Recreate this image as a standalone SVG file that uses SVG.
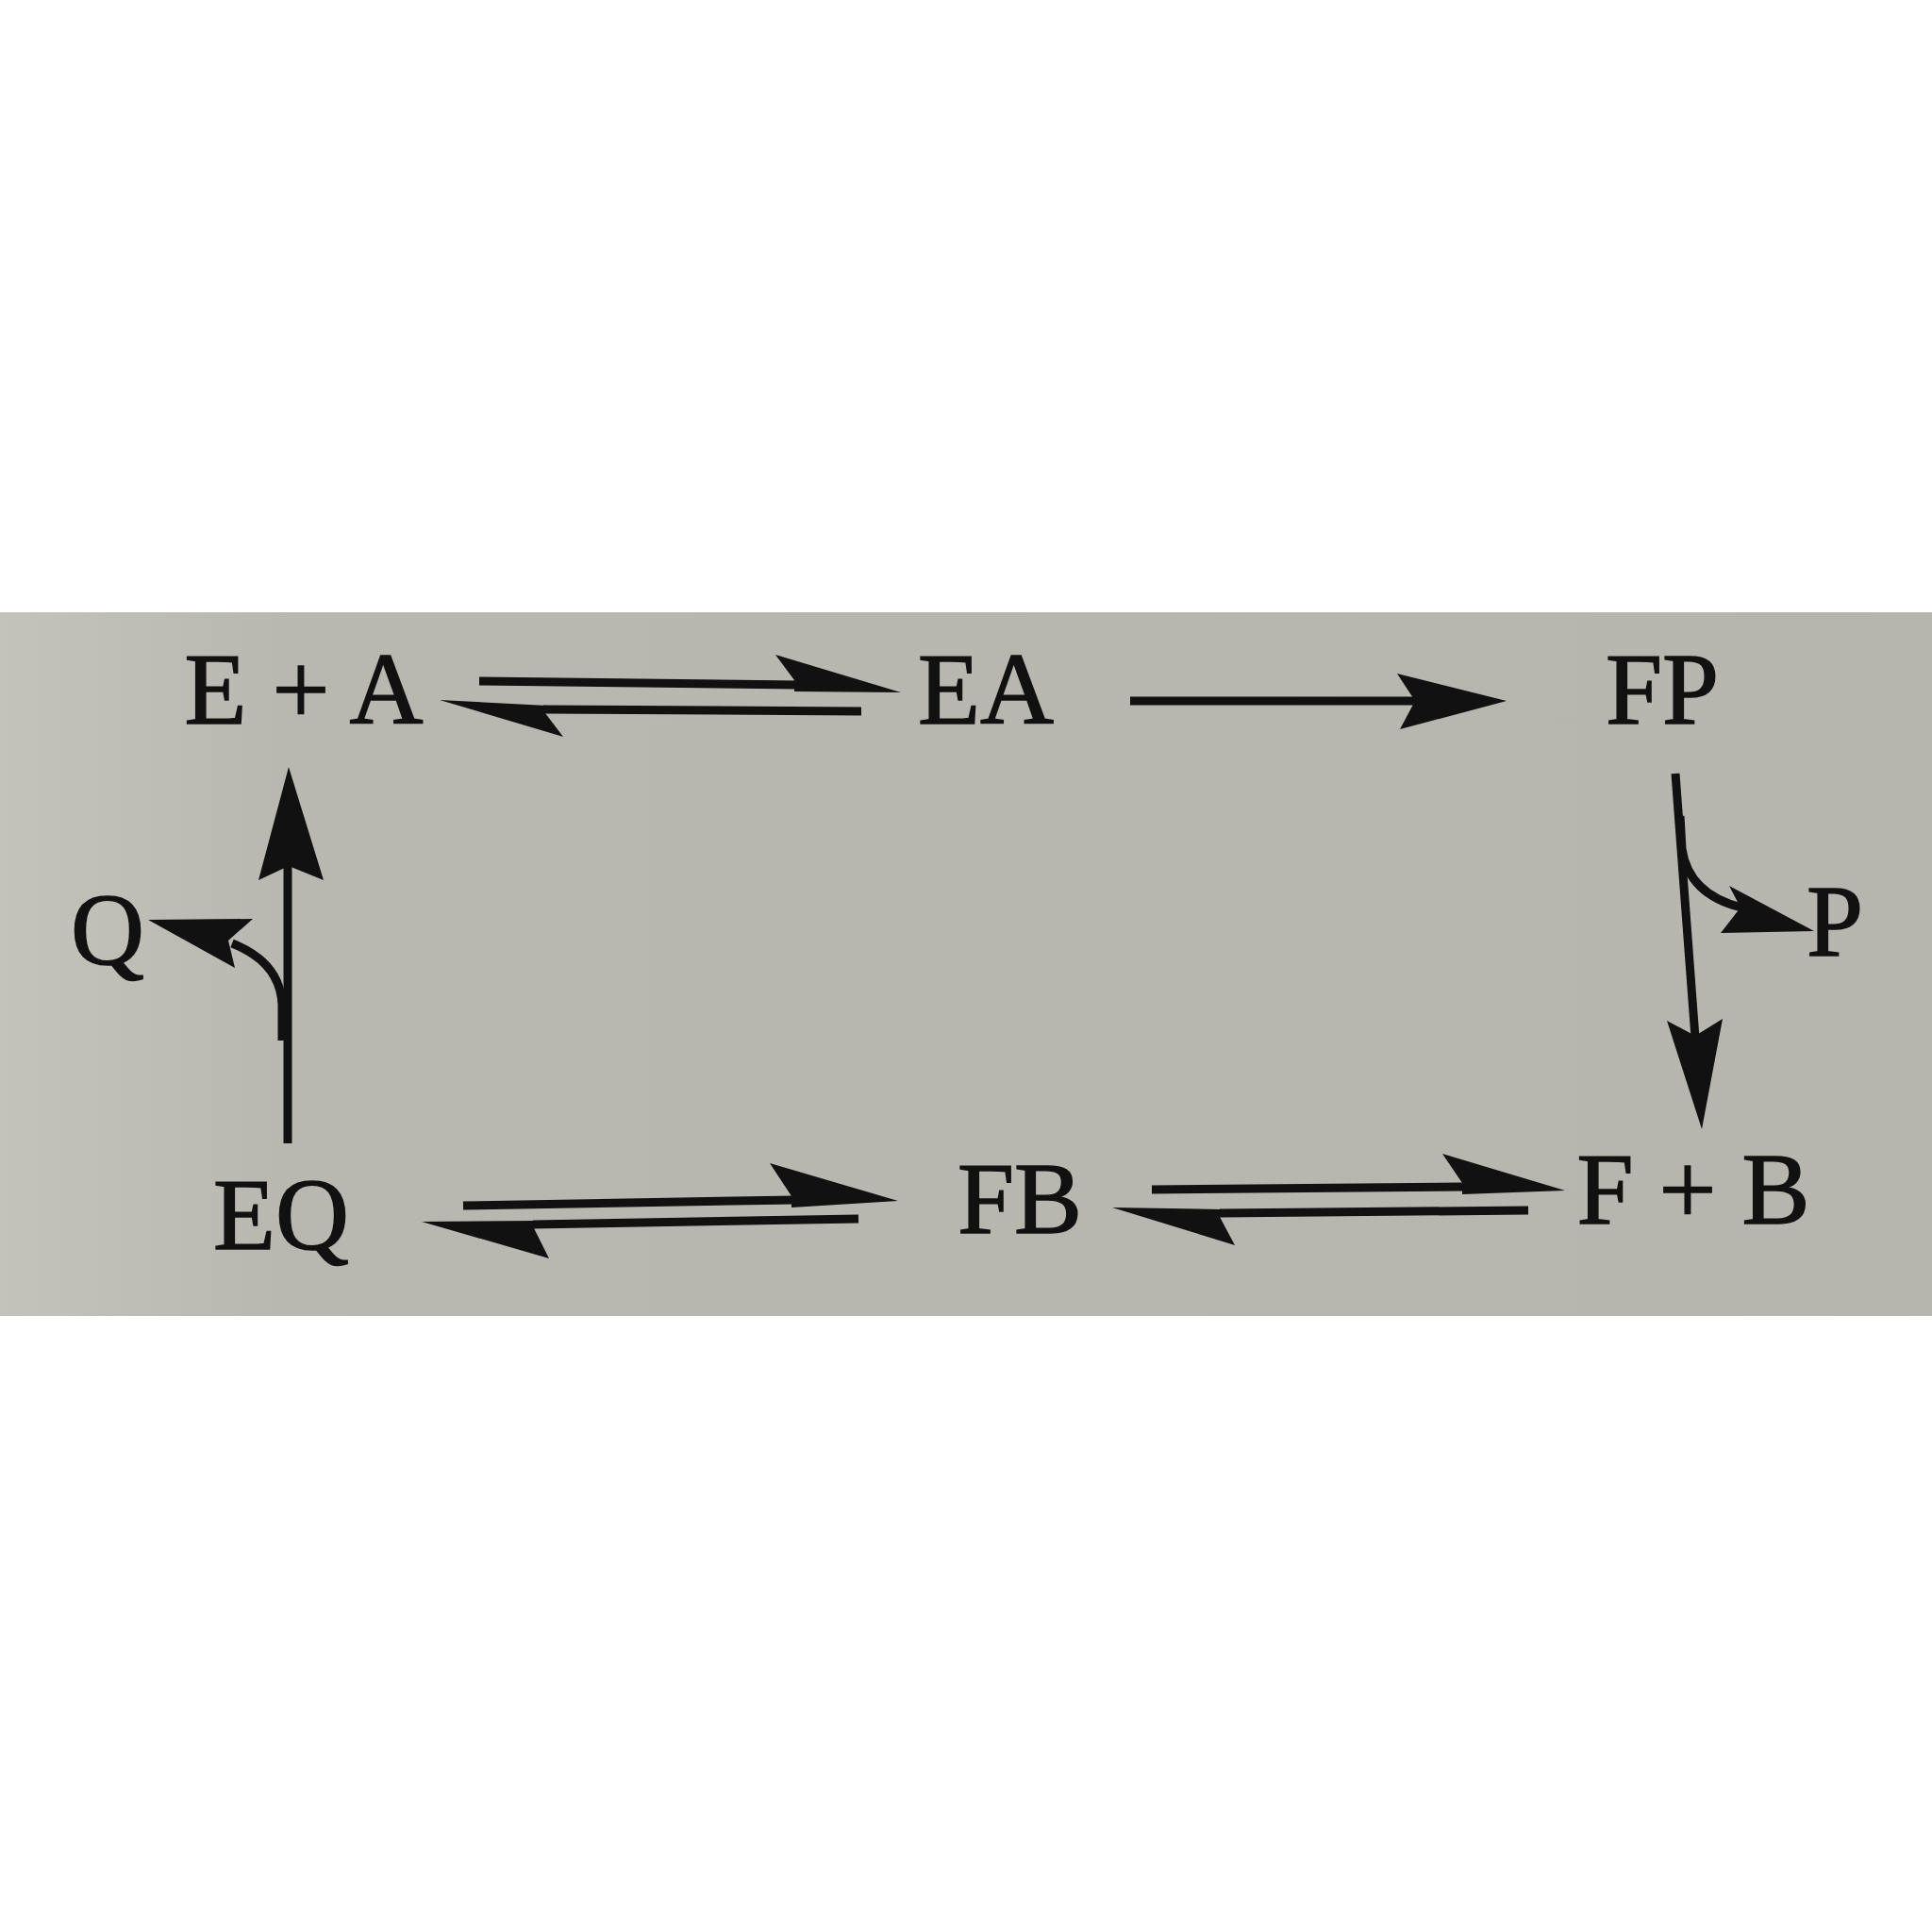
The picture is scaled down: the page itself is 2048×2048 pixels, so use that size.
<svg xmlns="http://www.w3.org/2000/svg" width="2048" height="2048" viewBox="0 0 2048 2048">
<defs>
<linearGradient id="paper" x1="0" y1="0" x2="1" y2="0">
<stop offset="0" stop-color="#c3c2bb"/>
<stop offset="0.15" stop-color="#b9b8b0"/>
<stop offset="1" stop-color="#b7b6ae"/>
</linearGradient>
<style>
.lbl{font-size:108px;fill:#111;stroke:#111;stroke-width:1.5px;text-anchor:middle}
.shaft{stroke:#111;stroke-width:9;fill:none;stroke-linecap:butt}
.curve{stroke:#111;stroke-width:9;fill:none}
.head{fill:#111;stroke:none}
</style>
</defs>
<rect x="0" y="0" width="2048" height="2048" fill="#ffffff"/>
<rect x="0" y="649" width="2048" height="746" fill="url(#paper)"/>

<g id="connectors">
<!-- E + A <=> EA -->
<line class="shaft" x1="508" y1="722" x2="846" y2="726"/>
<polygon class="head" points="842,721 822,694 955,734 842,733"/>
<line class="shaft" x1="576" y1="752" x2="913" y2="754"/>
<polygon class="head" points="466,742 580,748 578,756 597,781"/>
<!-- EA -> FP -->
<line class="shaft" x1="1198" y1="743" x2="1502" y2="743"/>
<polygon class="head" points="1481,714 1597,743 1484,773 1500,743"/>
<!-- EQ -> E + A with Q release -->
<line class="shaft" x1="305" y1="1212" x2="305" y2="915"/>
<polygon class="head" points="306,813 343,933 306,918 274,933"/>
<path class="curve" d="M299,1103 L299,1065 Q297,1020 246,1000"/>
<polygon class="head" points="157,975 268,974 242,997 249,1026"/>
<!-- FP -> F + B with P release -->
<line class="shaft" x1="1776" y1="820" x2="1797" y2="1100"/>
<polygon class="head" points="1804,1197 1767,1082 1797,1098 1826,1080"/>
<path class="curve" d="M1781,865 L1783,900 Q1790,948 1846,962"/>
<polygon class="head" points="1923,987 1833,939 1845,962 1824,989"/>
<!-- EQ <=> FB -->
<line class="shaft" x1="491" y1="1278" x2="842" y2="1272"/>
<polygon class="head" points="839,1268 816,1233 952,1273 839,1280"/>
<line class="shaft" x1="565" y1="1298" x2="910" y2="1292"/>
<polygon class="head" points="447,1295 568,1294 566,1302 582,1334"/>
<!-- FB <=> F + B -->
<line class="shaft" x1="1221" y1="1261" x2="1552" y2="1258"/>
<polygon class="head" points="1550,1254 1529,1223 1659,1262 1550,1266"/>
<line class="shaft" x1="1293" y1="1286" x2="1620" y2="1283"/>
<polygon class="head" points="1179,1280 1295,1282 1293,1290 1309,1320"/>
</g>

<g id="node-EplusA"><text class="lbl" font-family="Liberation Serif, serif" x="322" y="767">E + A</text></g>
<g id="node-EA"><text class="lbl" font-family="Liberation Serif, serif" x="1045" y="767">EA</text></g>
<g id="node-FP"><text class="lbl" font-family="Liberation Serif, serif" x="1762" y="767">FP</text></g>
<g id="node-Q"><text class="lbl" font-family="Liberation Serif, serif" x="114" y="1022">Q</text></g>
<g id="node-P"><text class="lbl" font-family="Liberation Serif, serif" x="1945" y="1013">P</text></g>
<g id="node-EQ"><text class="lbl" font-family="Liberation Serif, serif" x="298" y="1324">EQ</text></g>
<g id="node-FB"><text class="lbl" font-family="Liberation Serif, serif" x="1081" y="1307">FB</text></g>
<g id="node-FplusB"><text class="lbl" font-family="Liberation Serif, serif" x="1795" y="1297">F + B</text></g>
</svg>
